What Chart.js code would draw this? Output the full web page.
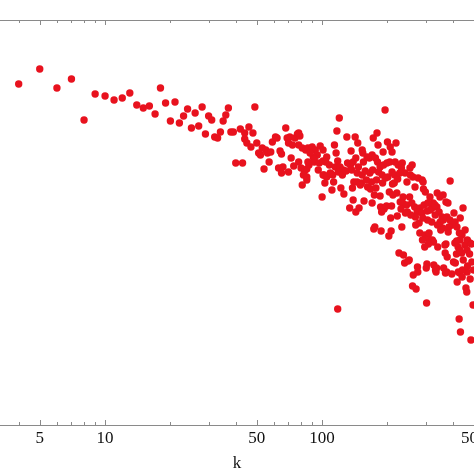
<!DOCTYPE html>
<html>
<head>
<meta charset="utf-8">
<script src="https://cdn.jsdelivr.net/npm/chart.js@4"></script>
<style>
html,body{margin:0;padding:0;background:#fff;}
#wrap{width:474px;height:474px;}
</style>
</head>
<body>
<div id="wrap"><canvas id="c" width="474" height="474"></canvas></div>
<script>
// degree k of each node class (x) and its measured value (y, arbitrary units; y axis not shown)
const degree = [
4,5,6,7,8,9,10,11,12,13,14,15,16,17,18,19,20,21,22,23,24,25,26,27,28,29,30,31,32,33,34,35,36,37,38,39,40,43,
42,46,48,49,44,45,47,50,53,51,52,55,56,58,59,61,62,68,64,65,69,71,75,77,79,70,73,78,81,84,86,90,93,95,91,88,72,
54,57,63,66,70,74,78,80,83,85,87,92,96,82,85,81,44,98,65,85,102,109,86,92,97,101,78,
195,120,117,130,142,172,179,101,114,116,136,146,153,154,181,200,206,219,191,210,
105,104,108,115,118,121,125,131,135,139,143,147,155,161,165,170,176,180,185,192,199,205,217,224,
101,105,110,112,119,124,129,137,145,153,158,166,171,182,189,201,210,216,
103,113,140,152,169,190,211,
234,260,254,241,255,262,277,289,292,246,389,
100,111,122,126,138,139,134,143,148,156,170,174,185,162,167,177,186,193,198,188,207,222,229,221,204,212,
175,173,187,208,203,226,233,
268,293,339,361,372,380,446,236,253,235,245,267,283,274,288,305,321,325,338,346,332,357,362,350,376,388,
410,418,397,381,359,340,320,306,291,269,256,247,270,282,298,308,322,326,309,297,290,456,441,432,409,423,
455,480,465,440,237,252,240,275,304,327,337,363,375,403,447,490,466,424,369,377,368,
232,299,314,349,405,433,
263,276,335,370,396,431,442,419,481,261,271,303,460,464,496,428,434,485,118,
372,417,467,341,249,302,333,411,416,430,443,468,499,488,478,280,311,352,384,429,
145,150,160,178,196,215,223,228,209,231,242,259,295,307,315,331
];
const value = [
3.41,3.56,3.37,3.46,3.05,3.31,3.29,3.25,3.27,3.32,3.20,3.17,3.19,3.11,3.37,3.22,3.04,3.23,3.02,3.09,3.16,2.97,3.12,2.99,3.18,2.91,3.09,3.05,2.88,2.87,2.93,3.04,3.10,3.17,2.93,2.93,2.62,2.62,
2.96,2.98,2.92,3.18,2.86,2.82,2.78,2.82,2.77,2.72,2.70,2.75,2.72,2.73,2.83,2.88,2.87,2.97,2.74,2.71,2.87,2.88,2.87,2.91,2.89,2.82,2.80,2.80,2.77,2.75,2.77,2.78,2.75,2.70,2.68,2.72,2.67,
2.56,2.63,2.57,2.58,2.53,2.59,2.63,2.57,2.54,2.56,2.60,2.63,2.55,2.50,2.45,2.40,2.92,2.79,2.52,2.48,2.50,2.52,2.63,2.66,2.62,2.64,2.92,
3.15,3.07,2.94,2.88,2.88,2.87,2.92,2.75,2.80,2.72,2.74,2.82,2.75,2.72,2.80,2.83,2.78,2.82,2.73,2.73,
2.68,2.63,2.60,2.58,2.64,2.58,2.55,2.62,2.60,2.63,2.67,2.58,2.63,2.68,2.67,2.70,2.67,2.63,2.58,2.60,2.62,2.63,2.63,2.60,
2.50,2.48,2.51,2.50,2.53,2.50,2.54,2.55,2.52,2.50,2.54,2.52,2.55,2.53,2.50,2.48,2.53,2.50,
2.42,2.43,2.43,2.42,2.43,2.42,2.41,
2.62,2.60,2.57,2.52,2.50,2.48,2.47,2.45,2.43,2.43,2.44,
2.28,2.35,2.37,2.31,2.37,2.25,2.17,2.13,2.17,2.24,2.22,2.30,2.29,2.38,2.36,2.37,2.18,2.16,2.19,2.13,2.07,2.09,2.23,2.32,2.33,2.30,
1.98,1.96,1.94,1.94,1.89,1.72,1.98,
2.38,2.36,2.32,2.30,2.23,2.22,2.17,2.28,2.28,2.22,2.20,2.18,2.17,2.13,2.12,2.14,2.17,2.22,2.18,2.13,2.10,2.08,2.05,2.03,2.08,2.05,
2.03,1.98,2.00,1.93,1.97,2.00,2.03,2.05,2.07,2.08,2.10,2.13,2.00,1.92,1.90,1.87,1.85,1.83,1.81,1.78,1.85,1.95,1.90,1.85,1.82,1.78,
1.80,1.82,1.75,1.72,1.70,1.65,1.62,1.58,1.61,1.60,1.57,1.57,1.53,1.63,1.65,1.63,1.53,1.53,1.72,1.68,1.80,
2.57,2.33,2.28,2.28,2.12,2.07,
1.50,1.53,1.53,1.52,1.51,1.52,1.48,1.43,1.46,1.39,1.36,1.22,1.37,1.33,1.20,1.06,0.93,0.85,1.16,
1.81,1.84,1.85,1.78,1.64,1.57,1.55,1.62,1.71,1.75,1.55,1.59,1.55,1.81,1.71,2.02,1.92,1.95,1.98,1.92,
2.43,2.40,2.45,2.45,2.47,2.42,2.46,2.52,2.19,2.16,2.12,2.22,2.20,2.22,2.15,2.20
];
const tickValues = [4,5,6,7,8,9,10,20,30,40,50,60,70,80,90,100,200,300,400,500];
const labeledTicks = [5,10,50,100,500];
const axisTitle = 'k';

const points = degree.map((k, i) => ({x: k, y: value[i]}));
const serif = 'Liberation Serif, Times New Roman, serif';
const frameColor = '#8a8a8a';

const frameTicks = {
  id: 'frameTicks',
  afterDraw(chart) {
    const xs = chart.scales.x;
    const {top, bottom} = chart.chartArea;
    const ctx = chart.ctx;
    ctx.save();
    ctx.strokeStyle = frameColor;
    ctx.lineWidth = 1;
    tickValues.forEach(v => {
      const px = Math.round(xs.getPixelForValue(v)) + 0.5;
      const len = labeledTicks.includes(v) ? 5 : 3;
      ctx.beginPath();
      ctx.moveTo(px, bottom); ctx.lineTo(px, bottom - len);
      ctx.moveTo(px, top); ctx.lineTo(px, top + len);
      ctx.stroke();
    });
    ctx.restore();
  }
};

const noSidePadding = h => s => { s.height = h; s.paddingLeft = 0; s.paddingRight = 0; };

new Chart(document.getElementById('c'), {
  type: 'scatter',
  data: {
    datasets: [{
      data: points,
      backgroundColor: 'rgb(232,18,30)',
      borderWidth: 0,
      pointRadius: 3.7,
      pointHoverRadius: 3.7
    }]
  },
  options: {
    responsive: false,
    animation: false,
    events: [],
    layout: {padding: 0, autoPadding: false},
    plugins: {legend: {display: false}, tooltip: {enabled: false}},
    scales: {
      x: {
        type: 'logarithmic',
        position: 'bottom',
        min: 3.28, max: 501,
        bounds: 'data',
        grid: {display: false, drawTicks: false},
        border: {display: true, color: frameColor, width: 1},
        afterBuildTicks: s => { s.ticks = tickValues.map(v => ({value: v})); },
        afterFit: noSidePadding(49),
        ticks: {
          autoSkip: false, maxRotation: 0, padding: 3,
          color: '#111',
          font: {family: serif, size: 17},
          callback: v => labeledTicks.includes(v) ? String(v) : ''
        },
        title: {display: true, text: axisTitle, color: '#111',
          font: {family: serif, size: 17, lineHeight: 1}, padding: {top: 0, bottom: 2}}
      },
      xTop: {
        type: 'logarithmic',
        position: 'top',
        min: 3.28, max: 501,
        bounds: 'data',
        grid: {display: false, drawTicks: false},
        border: {display: true, color: frameColor, width: 1},
        ticks: {display: false},
        afterFit: noSidePadding(20)
      },
      y: {
        type: 'linear',
        display: false,
        min: 0, max: 4.05
      }
    }
  },
  plugins: [frameTicks]
});
</script>
</body>
</html>
